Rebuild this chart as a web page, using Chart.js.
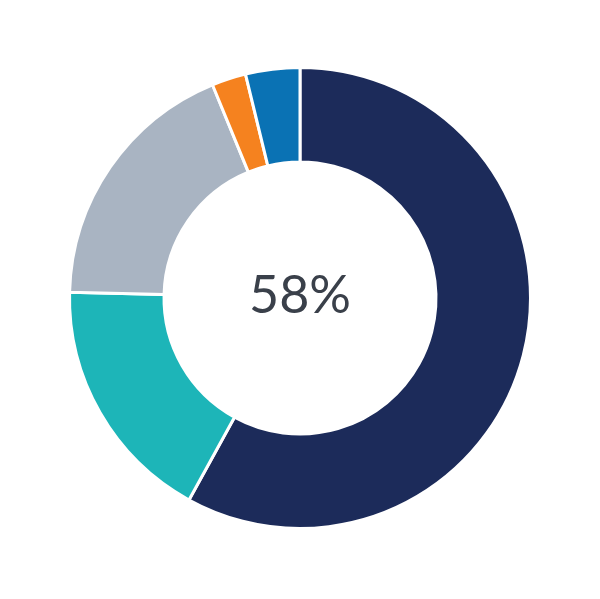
<!DOCTYPE html>
<html>
<head>
<meta charset="utf-8">
<script src="https://cdn.jsdelivr.net/npm/chart.js@4"></script>
<style>
  html, body { margin: 0; padding: 0; background: #fff; }
  #wrap { width: 600px; height: 599px; }
</style>
</head>
<body>
<div id="wrap"><canvas id="donut"></canvas></div>
<script>
// --- DATA ---
const segmentLabels = ['Navy', 'Teal', 'Gray', 'Orange', 'Blue'];
const segmentValues = [58, 17.4, 18.4, 2.4, 3.8];
const segmentColors = ['#1c2b5a', '#1db5b8', '#a9b4c2', '#f5821f', '#0a72b4'];
const centerLabel = '58%';

// center text plugin
const centerText = {
    id: 'centerText',
    afterDraw(chart) {
        const ctx = chart.ctx;
        const meta = chart.getDatasetMeta(0).data[0];
        ctx.save();
        ctx.font = '52px Lato';
        ctx.fillStyle = '#3a404a';
        ctx.textAlign = 'center';
        ctx.textBaseline = 'alphabetic';
        ctx.fillText(centerLabel, meta.x, meta.y + 15);
        ctx.restore();
    }
};

new Chart(document.getElementById('donut'), {
    type: 'doughnut',
    data: {
        labels: segmentLabels,
        datasets: [{
            data: segmentValues,
            backgroundColor: segmentColors,
            borderColor: '#ffffff',
            borderWidth: 3
        }]
    },
    options: {
        responsive: true,
        maintainAspectRatio: false,
        animation: false,
        cutout: '59%',
        layout: { padding: { top: 66, bottom: 69, left: 68, right: 68 } },
        plugins: {
            legend: { display: false },
            tooltip: { enabled: false }
        }
    },
    plugins: [centerText]
});
</script>
</body>
</html>
